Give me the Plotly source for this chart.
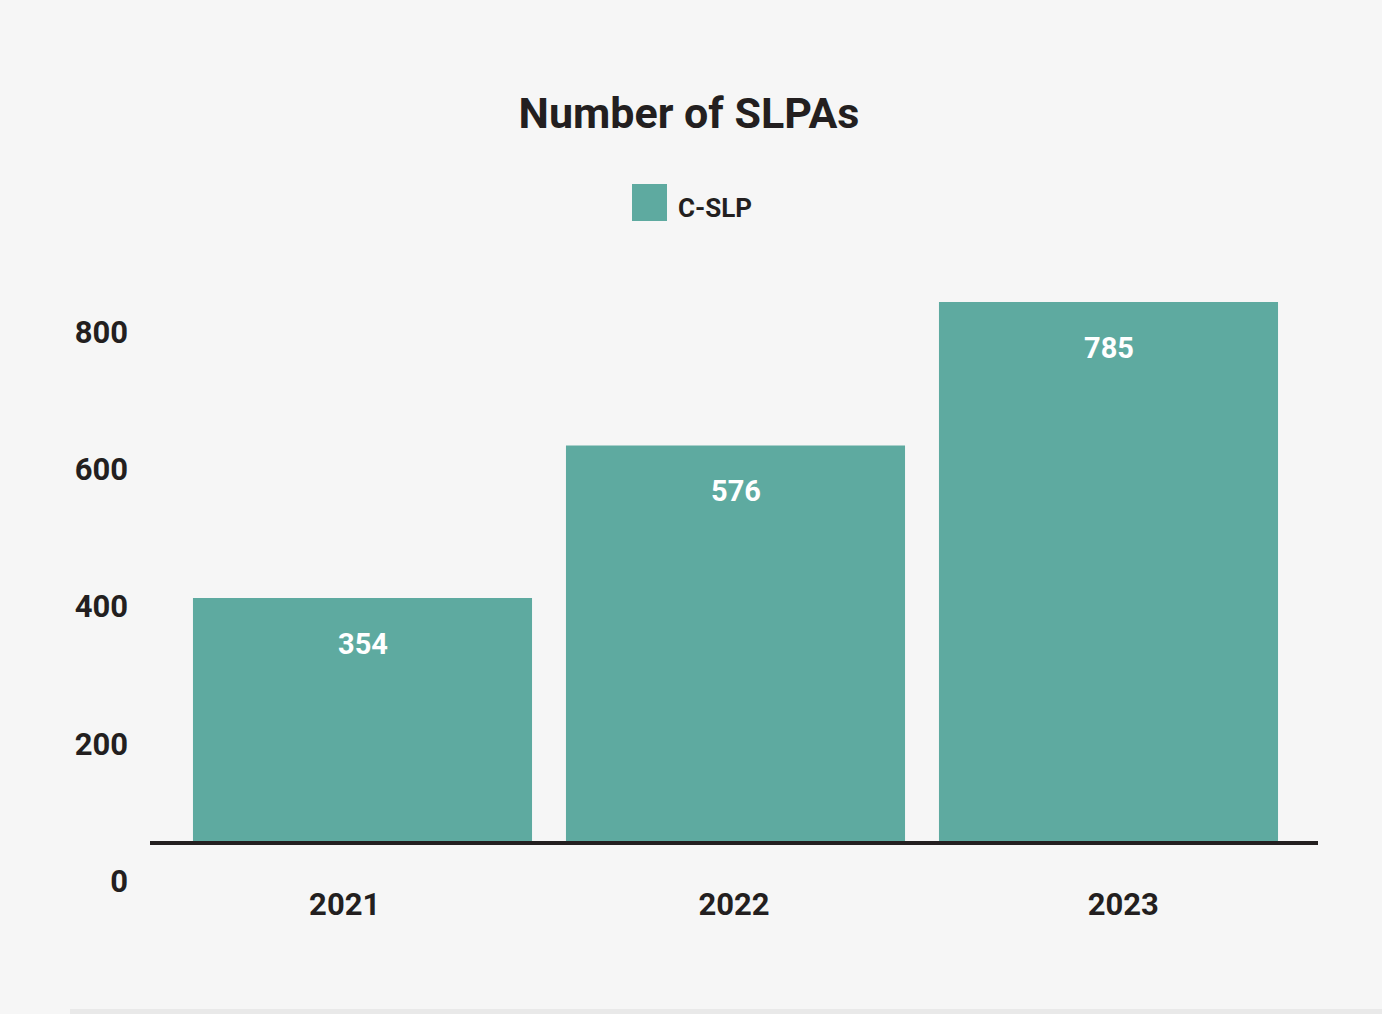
import plotly.graph_objects as go

# data
years = ["2021", "2022", "2023"]
slpa_counts = [354, 576, 785]
series_name = "C-SLP"
y_ticks = [0, 200, 400, 600, 800]

W, H = 1382, 1014
BG = "#f6f6f6"
BAR = "#5eaaa0"
INK = "#231f20"
FONT = "Roboto, Liberation Sans, sans-serif"


def px_x(p):
    return p / W


def px_y(p):
    return 1 - p / H


fig = go.Figure()

fig.add_trace(go.Bar(
    x=years,
    y=slpa_counts,
    name=series_name,
    marker=dict(color=BAR, line=dict(width=0)),
    hoverinfo="x+y",
))

# invisible helper so the label axis (x2) gets drawn
fig.add_trace(go.Scatter(
    x=years, y=slpa_counts, xaxis="x2", yaxis="y",
    mode="markers", marker=dict(opacity=0),
    hoverinfo="skip", showlegend=False,
))

# value labels sit a little below each bar top
for i, v in enumerate(slpa_counts):
    fig.add_annotation(
        x=i, y=v, xref="x", yref="y",
        text=f"<b>{v}</b>", showarrow=False,
        yanchor="middle", yshift=-46,
        font=dict(family=FONT, size=29, color="white"),
    )

# legend drawn by hand (big square swatch)
fig.add_shape(type="rect", xref="paper", yref="paper",
              x0=px_x(632), x1=px_x(667), y0=px_y(221), y1=px_y(184),
              fillcolor=BAR, line=dict(width=0))
fig.add_annotation(
    x=px_x(676), y=px_y(208), xref="paper", yref="paper",
    text=f"<b>{series_name}</b>", showarrow=False,
    xanchor="left", yanchor="middle",
    font=dict(family=FONT, size=26, color=INK),
)

# faint strip along the bottom edge
fig.add_shape(type="rect", xref="paper", yref="paper",
              x0=px_x(70), x1=1, y0=0, y1=px_y(1009),
              fillcolor="#e9e9e9", line=dict(width=0), layer="below")

fig.update_layout(
    width=W, height=H,
    margin=dict(l=0, r=0, t=0, b=0),
    paper_bgcolor=BG,
    plot_bgcolor="rgba(0,0,0,0)",
    showlegend=False,
    bargap=0.091,
    title=dict(
        text="<b>Number of SLPAs</b>",
        x=px_x(689), xanchor="center",
        y=px_y(113), yanchor="middle",
        font=dict(family=FONT, size=43, color=INK),
    ),
    font=dict(family=FONT, color=INK),
    xaxis=dict(
        type="category",
        domain=[px_x(176), px_x(1295)],
        anchor="y",
        range=[-0.5, 2.5],
        showticklabels=False,
        showgrid=False, zeroline=False, showline=False,
        automargin=False,
        fixedrange=True,
    ),
    # separate axis that carries the year labels and the base line
    xaxis2=dict(
        type="category",
        domain=[px_x(150), px_x(1318)],
        anchor="y",
        range=[-0.5, 2.5],
        tickfont=dict(family=FONT, size=31, color=INK, weight="bold"),
        ticks="",
        ticklabelstandoff=33,
        showgrid=False, zeroline=False,
        showline=True, linecolor=INK, linewidth=4,
        automargin=False,
        fixedrange=True,
    ),
    yaxis=dict(
        domain=[px_y(841), px_y(223)],
        anchor="x",
        range=[0, 900],
        tickvals=y_ticks,
        ticktext=[f"<b>{t}</b>" for t in y_ticks],
        tickfont=dict(family=FONT, size=31, color=INK),
        ticks="",
        ticklabelstandoff=47,
        ticklabelshift=40,
        showgrid=False, zeroline=False, showline=False,
        automargin=False,
        fixedrange=True,
    ),
)

fig.write_html(
    "out.html",
    config={"displayModeBar": False},
    post_script="document.body.style.margin='0';"
                "document.documentElement.style.overflow='hidden';",
)
